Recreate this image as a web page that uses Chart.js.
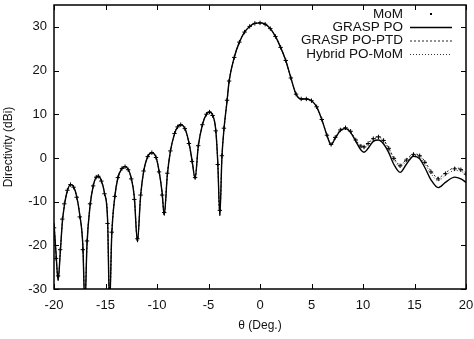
<!DOCTYPE html>
<html>
<head>
<meta charset="utf-8">
<script src="https://cdn.jsdelivr.net/npm/chart.js@4/dist/chart.umd.min.js"></script>
<style>
html, body { margin: 0; padding: 0; background: #fff; }
</style>
</head>
<body>
<canvas id="myChart" width="474" height="339"></canvas>
<script>
// theta (deg) sample grid
var theta = [-20, -19.8, -19.6, -19.4, -19.2, -19, -18.7, -18.4, -18.1, -17.8, -17.5, -17.2, -17, -16.8, -16.5, -16.2, -15.9, -15.7, -15.4, -15.1, -14.8, -14.6, -14.4, -14.1, -13.8, -13.4, -13.1, -12.8, -12.5, -12.2, -11.9, -11.6, -11.3, -10.9, -10.5, -10.1, -9.8, -9.5, -9.3, -9, -8.7, -8.3, -8, -7.7, -7.3, -6.9, -6.6, -6.3, -6, -5.6, -5.2, -4.9, -4.6, -4.3, -4.1, -3.9, -3.7, -3.5, -3.2, -3, -2.5, -2, -1.5, -1, -0.5, 0, 0.5, 1, 1.5, 2, 2.5, 3, 3.5, 4, 4.5, 5, 5.5, 6, 6.5, 6.9, 7.3, 7.8, 8.3, 8.8, 9.3, 9.8, 10.1, 10.5, 11, 11.5, 12, 12.5, 13, 13.6, 14.2, 14.9, 15.5, 16, 16.6, 17.3, 18, 18.9, 19.5, 20];

var graspPO = [-15, -22, -28, -22, -15, -11, -7.5, -6.1, -6.6, -8.8, -13, -20, -34, -20, -11, -6.5, -4.4, -4.2, -5.2, -8, -14, -34, -18, -9, -4.6, -2.4, -2, -2.6, -4.6, -9, -19.2, -9, -3.2, 0.3, 1.2, 0.2, -3, -8, -13.1, -4, 1.5, 5.5, 7.1, 7.6, 6.8, 3.5, -0.5, -4.7, 2.5, 7.5, 10, 10.5, 9.8, 6.5, -1, -13.2, 0, 6.5, 13, 17.5, 23, 26.5, 28.8, 30.1, 30.8, 30.9, 30.6, 29.6, 27.8, 25.3, 22.3, 18.3, 14.6, 13.5, 13.5, 13.1, 11.7, 8.8, 5.2, 3, 4.5, 6.2, 6.7, 5.8, 3.8, 1.8, 1.3, 2.2, 3.8, 4.1, 3.2, 1.2, -1.5, -3.3, -1.5, 0.4, -0.2, -2.2, -5, -6.8, -5.6, -4.4, -4.8, -5.6];

var graspPTD = [-15, -22, -28, -22, -15, -11, -7.5, -6.1, -6.6, -8.8, -13, -20, -34, -20, -11, -6.5, -4.4, -4.2, -5.2, -8, -14, -34, -18, -9, -4.6, -2.4, -2, -2.6, -4.6, -9, -19.2, -9, -3.2, 0.3, 1.2, 0.2, -3, -8, -13.1, -4, 1.5, 5.5, 7.1, 7.6, 6.8, 3.5, -0.5, -4.7, 2.5, 7.5, 10, 10.5, 9.8, 6.5, -1, -13.2, 0, 6.5, 13, 17.5, 23, 26.5, 28.8, 30.1, 30.8, 30.9, 30.6, 29.6, 27.8, 25.3, 22.3, 18.3, 14.6, 13.5, 13.5, 13.1, 11.7, 8.8, 5.2, 3.1, 4.7, 6.4, 6.9, 6.1, 4.1, 2.8, 2.6, 3.4, 4.5, 4.9, 4.1, 2.3, 0, -1.6, -0.4, 0.9, 0.6, -0.8, -3, -4.6, -3.4, -2.3, -2.5, -3.5];

var hybridPOMoM = [-15, -22, -28, -22, -15, -11, -7.5, -6.1, -6.6, -8.8, -13, -20, -34, -20, -11, -6.5, -4.4, -4.2, -5.2, -8, -14, -34, -18, -9, -4.6, -2.4, -2, -2.6, -4.6, -9, -19.2, -9, -3.2, 0.3, 1.2, 0.2, -3, -8, -13.1, -4, 1.5, 5.5, 7.1, 7.6, 6.8, 3.5, -0.5, -4.7, 2.5, 7.5, 10, 10.5, 9.8, 6.5, -1, -13.2, 0, 6.5, 13, 17.5, 23, 26.5, 28.8, 30.1, 30.8, 30.9, 30.6, 29.6, 27.8, 25.3, 22.3, 18.3, 14.6, 13.5, 13.5, 13.1, 11.7, 8.8, 5.2, 3.1, 4.6, 6.3, 6.8, 6, 4, 2.5, 2.3, 3.1, 4.3, 4.6, 3.8, 2, -0.4, -2, -0.8, 0.6, 0.2, -1.3, -3.6, -5.2, -4, -2.9, -3, -4];

var mom = [-16, -23, -27, -21, -14, -10.5, -7.4, -6.1, -6.7, -9, -13.5, -21, -33, -19, -10.5, -6.4, -4.4, -4.2, -5.3, -8.2, -15, -33, -17, -8.8, -4.5, -2.4, -2, -2.7, -4.8, -9.5, -18.5, -8.5, -3, 0.3, 1.2, 0.1, -3.2, -8.5, -12.5, -3.5, 1.6, 5.6, 7.1, 7.6, 6.7, 3.3, -0.8, -4.5, 2.8, 7.6, 10, 10.5, 9.7, 6.2, -1.5, -12, 0.5, 6.8, 13.2, 17.6, 23, 26.5, 28.8, 30.1, 30.8, 30.9, 30.6, 29.6, 27.8, 25.3, 22.3, 18.3, 14.6, 13.5, 13.5, 13.1, 11.7, 8.8, 5.2, 3.1, 4.7, 6.4, 6.9, 6.1, 4.1, 2.7, 2.5, 3.3, 4.4, 4.8, 4, 2.2, -0.1, -1.8, -0.5, 0.8, 0.5, -1, -3.2, -4.8, -3.6, -2.5, -2.7, -3.7];

var xTicks = [-20, -15, -10, -5, 0, 5, 10, 15, 20];
var yTicks = [-30, -20, -10, 0, 10, 20, 30];
var seriesNames = ["MoM", "GRASP PO", "GRASP PO-PTD", "Hybrid PO-MoM"];

function toPoints(vals) {
  return theta.map(function (t, i) { return { x: t, y: vals[i] }; });
}

// gnuplot-like frame, inward ticks and the legend box in the top right
var gnuFrame = {
  id: 'gnuFrame',
  afterDatasetsDraw: function (chart) {
    var ctx = chart.ctx;
    var a = chart.chartArea;
    var xs = chart.scales.x, ys = chart.scales.y;
    ctx.save();
    ctx.strokeStyle = '#000';
    ctx.lineWidth = 1;
    xTicks.forEach(function (v) {
      var px = Math.round(xs.getPixelForValue(v)) + 0.5;
      ctx.beginPath();
      ctx.moveTo(px, a.bottom); ctx.lineTo(px, a.bottom - 5);
      ctx.moveTo(px, a.top); ctx.lineTo(px, a.top + 5);
      ctx.stroke();
    });
    yTicks.forEach(function (v) {
      var py = Math.round(ys.getPixelForValue(v)) + 0.5;
      ctx.beginPath();
      ctx.moveTo(a.left, py); ctx.lineTo(a.left + 5, py);
      ctx.moveTo(a.right, py); ctx.lineTo(a.right - 5, py);
      ctx.stroke();
    });
    ctx.lineWidth = 1.5;
    ctx.strokeRect(a.left, a.top, a.right - a.left, a.bottom - a.top);

    // legend
    ctx.font = '13.5px "Liberation Sans", Arial, sans-serif';
    ctx.fillStyle = '#111';
    ctx.textAlign = 'right';
    ctx.textBaseline = 'middle';
    var rowY = [14, 27, 40.5, 54];
    var textRight = 403, s0 = 410, s1 = 452;
    chart.data.datasets.forEach(function (ds, i) {
      var y = rowY[i];
      ctx.fillText(ds.label, textRight, y);
      ctx.save();
      if (i === 0) {
        ctx.fillStyle = '#000';
        ctx.fillRect((s0 + s1) / 2 - 1, y - 1, 2, 2);
      } else {
        ctx.strokeStyle = ds.borderColor;
        ctx.lineWidth = ds.borderWidth;
        ctx.setLineDash(ds.borderDash || []);
        ctx.beginPath();
        ctx.moveTo(s0, y + 0.5); ctx.lineTo(s1, y + 0.5);
        ctx.stroke();
      }
      ctx.restore();
    });
    ctx.restore();
  }
};

new Chart("myChart", {
  type: "line",
  data: {
    datasets: [{
      label: seriesNames[0],
      data: toPoints(mom),
      showLine: false,
      pointStyle: 'cross',
      pointRadius: 2.2,
      pointBorderWidth: 1,
      pointBorderColor: '#000',
      borderColor: '#000'
    }, {
      label: seriesNames[1],
      data: toPoints(graspPO),
      borderColor: '#000',
      borderWidth: 1.4,
      pointRadius: 0,
      cubicInterpolationMode: 'monotone'
    }, {
      label: seriesNames[2],
      data: toPoints(graspPTD),
      borderColor: '#222',
      borderWidth: 1,
      borderDash: [2, 2],
      pointRadius: 0,
      cubicInterpolationMode: 'monotone'
    }, {
      label: seriesNames[3],
      data: toPoints(hybridPOMoM),
      borderColor: '#333',
      borderWidth: 1,
      borderDash: [1, 2],
      pointRadius: 0,
      cubicInterpolationMode: 'monotone'
    }]
  },
  options: {
    responsive: false,
    animation: false,
    layout: { padding: { top: 3, right: 8, left: 0, bottom: 0 } },
    plugins: {
      legend: { display: false },
      tooltip: { enabled: false }
    },
    scales: {
      x: {
        type: 'linear',
        min: -20,
        max: 20,
        afterFit: function (scale) {
          scale.height = 50;
          scale.paddingLeft = 0;
          scale.paddingRight = 0;
        },
        afterBuildTicks: function (scale) {
          scale.ticks = xTicks.map(function (v) { return { value: v }; });
        },
        grid: { drawOnChartArea: false, drawTicks: false },
        border: { display: false },
        ticks: {
          padding: 9,
          color: '#111',
          font: { family: '"Liberation Sans", Arial, sans-serif', size: 13 }
        },
        title: {
          display: true,
          text: 'θ (Deg.)',
          color: '#111',
          padding: { top: 0, bottom: 6 },
          font: { family: '"Liberation Sans", Arial, sans-serif', size: 12 }
        }
      },
      y: {
        min: -30,
        max: 35,
        afterFit: function (scale) {
          scale.width = 54;
          scale.paddingTop = 0;
          scale.paddingBottom = 0;
        },
        afterBuildTicks: function (scale) {
          scale.ticks = yTicks.map(function (v) { return { value: v }; });
        },
        grid: { drawOnChartArea: false, drawTicks: false },
        border: { display: false },
        ticks: {
          padding: 7,
          color: '#111',
          font: { family: '"Liberation Sans", Arial, sans-serif', size: 13 }
        },
        title: {
          display: true,
          text: 'Directivity (dBi)',
          color: '#111',
          padding: { top: 1, bottom: 0 },
          font: { family: '"Liberation Sans", Arial, sans-serif', size: 12 }
        }
      }
    }
  },
  plugins: [gnuFrame]
});
</script>
</body>
</html>
